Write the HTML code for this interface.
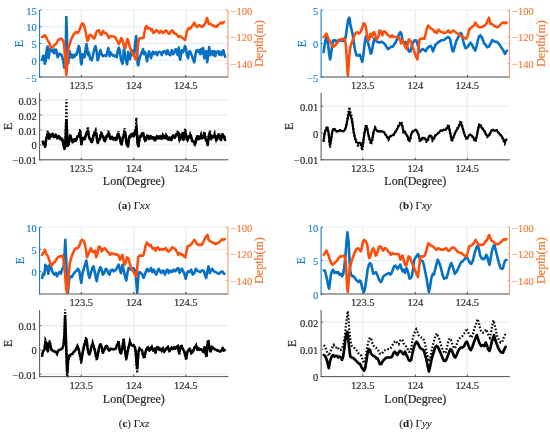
<!DOCTYPE html>
<html><head><meta charset="utf-8"><style>
html,body{margin:0;padding:0;background:#fff;}
svg{display:block;}
.t{font-family:"Liberation Serif","Times New Roman",serif;font-size:10.5px;stroke-width:0.15px;}
.l{font-family:"Liberation Serif","Times New Roman",serif;font-size:12px;stroke-width:0.2px;}
.c{font-family:"Liberation Serif","Times New Roman",serif;font-size:11px;stroke-width:0.1px;}
</style></head><body>
<svg width="550" height="435" viewBox="0 0 550 435">
<rect width="550" height="435" fill="#fff"/>
<line x1="81.3" y1="10.0" x2="81.3" y2="77.0" stroke="#e2e2e2" stroke-width="0.8"/>
<line x1="133.8" y1="10.0" x2="133.8" y2="77.0" stroke="#e2e2e2" stroke-width="0.8"/>
<line x1="185.8" y1="10.0" x2="185.8" y2="77.0" stroke="#e2e2e2" stroke-width="0.8"/>
<line x1="39.6" y1="10.0" x2="227.9" y2="10.0" stroke="#d9e8f4" stroke-width="0.8"/>
<line x1="39.6" y1="26.8" x2="227.9" y2="26.8" stroke="#d9e8f4" stroke-width="0.8"/>
<line x1="39.6" y1="43.5" x2="227.9" y2="43.5" stroke="#d9e8f4" stroke-width="0.8"/>
<line x1="39.6" y1="60.2" x2="227.9" y2="60.2" stroke="#d9e8f4" stroke-width="0.8"/>
<line x1="39.6" y1="77.0" x2="227.9" y2="77.0" stroke="#d9e8f4" stroke-width="0.8"/>
<clipPath id="c39_10"><rect x="39.6" y="8.0" width="188.3" height="70.0"/></clipPath>
<g clip-path="url(#c39_10)">
<polyline points="42.2,59.7 43.0,56.2 43.6,55.7 43.9,59.2 44.9,63.8 45.6,61.3 46.1,55.2 46.9,49.1 47.6,46.6 48.1,51.2 48.6,58.2 49.1,54.2 49.9,50.2 50.6,48.6 51.1,50.2 52.0,51.2 52.6,49.6 53.2,52.2 54.0,53.2 54.7,49.6 55.2,52.2 55.7,50.7 56.2,49.6 56.9,54.2 57.7,57.2 58.5,55.2 59.2,53.7 60.0,53.7 60.7,55.2 61.4,54.7 62.2,56.7 63.0,60.3 63.8,64.3 64.3,67.8 64.8,65.3 65.3,60.3 65.8,47.1 66.3,17.0 66.8,30.0 67.3,54.2 67.8,61.3 68.3,63.3 68.8,55.2 69.3,51.2 69.8,51.7 70.3,54.7 70.8,57.2 71.3,55.2 72.0,54.7 72.6,57.7 73.3,56.2 74.0,55.2 74.6,56.7 75.2,55.2 76.0,53.7 76.6,54.7 77.2,52.7 77.9,49.1 78.7,46.1 79.5,48.1 80.2,54.2 80.9,62.3 81.5,64.3 82.2,58.2 82.7,54.2 83.2,55.2 83.7,56.7 84.5,57.2 85.2,52.2 85.9,47.1 86.5,44.1 87.2,48.1 87.7,53.2 88.2,55.2 88.7,52.2 89.5,55.2 90.2,59.2 91.0,58.2 91.8,60.3 93.0,55.2 94.0,50.2 95.5,46.1 96.6,51.2 97.6,60.3 98.3,59.2 99.1,54.2 100.6,50.2 101.6,54.2 102.9,56.2 104.1,55.2 105.1,55.2 106.2,56.2 107.2,53.2 108.2,48.1 109.0,51.2 109.7,56.2 110.7,52.7 111.7,54.2 112.7,55.2 114.0,56.2 115.2,55.2 116.8,57.2 117.8,50.2 118.8,47.6 119.8,51.2 120.8,58.2 121.8,62.3 122.5,63.8 123.3,57.2 123.8,49.6 124.5,51.2 125.3,56.7 126.4,62.3 127.1,64.3 127.6,60.3 128.2,51.7 128.9,55.2 129.9,59.2 130.9,54.7 131.9,50.2 132.9,52.2 133.9,54.7 134.6,50.2 135.4,41.0 136.2,36.0 136.7,41.0 137.3,57.2 137.7,64.3 138.3,65.3 139.0,60.3 140.0,57.2 141.0,54.2 142.0,52.2 143.0,49.1 144.0,54.2 145.0,52.2 146.0,55.2 147.0,61.3 148.0,55.2 149.0,51.2 150.1,55.2 151.1,58.2 152.1,53.2 153.1,51.7 154.1,54.2 155.1,52.7 156.1,52.2 157.1,55.2 158.1,52.7 159.2,51.7 160.7,52.2 161.7,55.2 162.7,53.2 163.7,51.2 165.2,51.2 166.2,54.2 167.7,50.2 168.7,54.2 170.3,55.2 171.8,50.2 173.3,54.2 174.3,52.2 175.8,49.1 176.8,53.2 177.8,55.2 178.8,47.6 179.6,56.2 180.2,59.7 180.9,55.2 181.9,50.2 182.9,52.2 183.9,50.2 184.9,46.1 185.9,48.1 187.0,55.2 188.0,58.2 189.0,52.2 190.0,51.2 191.0,53.7 192.1,56.2 193.1,59.2 194.3,62.3 195.1,57.2 196.1,51.2 197.1,50.2 198.1,51.7 199.1,50.2 200.2,54.2 201.2,49.1 202.2,53.2 203.2,48.1 204.2,58.2 205.2,52.2 206.2,51.2 207.2,62.3 208.2,55.2 209.2,47.1 210.3,55.2 211.3,53.2 212.3,51.2 213.3,55.2 214.3,51.2 215.3,56.2 216.3,51.7 217.3,52.7 218.3,51.2 219.3,54.7 220.4,52.2 221.4,55.2 222.4,51.2 223.4,50.2 224.4,54.7 225.2,56.7" fill="none" stroke="#0570C4" stroke-width="2.60" stroke-linejoin="round" stroke-linecap="round" />
<polyline points="42.0,37.0 43.6,36.5 44.6,35.0 46.1,37.0 47.3,39.5 48.1,41.0 49.1,42.6 49.9,44.6 50.6,46.6 51.3,48.1 52.1,47.6 53.2,46.6 54.2,45.1 55.2,44.6 56.2,43.6 57.2,42.1 58.2,40.0 59.2,39.5 60.2,39.0 61.2,38.5 62.0,39.0 62.7,40.0 63.5,41.6 64.0,44.1 64.5,50.2 65.1,57.2 65.8,68.3 66.3,74.9 67.0,68.3 67.5,59.2 68.1,51.2 68.8,47.1 69.5,45.1 70.3,42.1 71.3,39.0 72.3,37.0 73.4,35.0 74.0,34.0 76.0,32.0 78.0,33.0 79.4,30.0 80.6,27.0 82.0,23.5 83.4,24.0 84.5,27.0 85.5,31.0 86.6,37.0 87.5,41.0 88.5,39.0 89.5,35.0 91.0,35.0 92.5,37.0 94.0,38.5 95.0,37.0 96.0,33.0 97.0,31.0 98.6,30.0 100.0,33.0 101.4,35.0 103.0,31.0 104.6,33.0 106.0,33.0 107.4,35.0 108.7,38.0 110.2,36.0 112.0,36.5 114.0,36.5 115.7,38.0 117.3,41.0 118.8,44.1 120.3,41.0 121.3,38.0 122.3,40.0 123.3,43.0 124.3,47.1 125.3,48.0 126.3,43.0 127.4,39.0 128.6,42.0 129.9,47.1 131.4,51.2 132.9,54.2 134.4,57.2 136.0,59.7 137.0,55.0 137.7,48.0 138.5,41.0 139.5,38.5 141.5,38.0 143.5,38.0 144.4,33.0 145.6,27.0 146.6,26.0 148.0,28.6 149.4,28.0 151.0,30.0 152.0,29.0 153.4,33.0 155.0,32.0 156.4,30.0 158.0,31.0 159.4,33.0 161.0,31.0 163.0,33.0 165.0,31.0 166.4,30.6 168.0,33.0 169.4,34.0 171.0,31.0 172.6,30.6 174.0,33.0 176.0,34.0 177.4,35.0 178.6,37.0 180.0,36.0 181.0,37.0 182.6,38.0 184.0,39.0 185.0,40.0 186.0,36.0 187.0,31.0 188.6,28.0 190.0,29.0 191.4,27.0 193.0,25.0 194.2,22.6 195.4,25.0 197.0,27.0 199.0,25.0 200.6,26.0 202.0,27.0 204.0,25.0 205.4,23.0 207.0,18.0 208.0,21.0 209.0,24.0 210.6,24.0 212.0,25.0 214.0,26.0 216.0,27.0 218.0,25.0 219.4,24.0 221.0,22.6 222.4,23.4 224.0,22.0" fill="none" stroke="#FC4F0C" stroke-width="2.60" stroke-linejoin="round" stroke-linecap="round" />
</g>
<line x1="39.1" y1="77.0" x2="228.4" y2="77.0" stroke="#555555" stroke-width="1"/>
<line x1="81.3" y1="77.0" x2="81.3" y2="75.0" stroke="#262626" stroke-width="0.8"/>
<text x="81.3" y="88.6" text-anchor="middle" class="t" fill="#262626" stroke="#262626">123.5</text>
<line x1="133.8" y1="77.0" x2="133.8" y2="75.0" stroke="#262626" stroke-width="0.8"/>
<text x="133.8" y="88.6" text-anchor="middle" class="t" fill="#262626" stroke="#262626">124</text>
<line x1="185.8" y1="77.0" x2="185.8" y2="75.0" stroke="#262626" stroke-width="0.8"/>
<text x="185.8" y="88.6" text-anchor="middle" class="t" fill="#262626" stroke="#262626">124.5</text>
<line x1="39.6" y1="10.0" x2="39.6" y2="77.5" stroke="#0570C4" stroke-width="1"/>
<line x1="39.6" y1="10.0" x2="41.6" y2="10.0" stroke="#0570C4" stroke-width="0.8"/>
<text x="36.8" y="14.5" text-anchor="end" class="t" fill="#1A7ECB" stroke="#1A7ECB">15</text>
<line x1="39.6" y1="26.8" x2="41.6" y2="26.8" stroke="#0570C4" stroke-width="0.8"/>
<text x="36.8" y="31.2" text-anchor="end" class="t" fill="#1A7ECB" stroke="#1A7ECB">10</text>
<line x1="39.6" y1="43.5" x2="41.6" y2="43.5" stroke="#0570C4" stroke-width="0.8"/>
<text x="36.8" y="48.0" text-anchor="end" class="t" fill="#1A7ECB" stroke="#1A7ECB">5</text>
<line x1="39.6" y1="60.2" x2="41.6" y2="60.2" stroke="#0570C4" stroke-width="0.8"/>
<text x="36.8" y="64.8" text-anchor="end" class="t" fill="#1A7ECB" stroke="#1A7ECB">0</text>
<line x1="39.6" y1="77.0" x2="41.6" y2="77.0" stroke="#0570C4" stroke-width="0.8"/>
<text x="36.8" y="81.5" text-anchor="end" class="t" fill="#1A7ECB" stroke="#1A7ECB">−5</text>
<line x1="227.9" y1="10.0" x2="227.9" y2="77.5" stroke="#F78F62" stroke-width="1"/>
<line x1="225.9" y1="10.0" x2="227.9" y2="10.0" stroke="#F78F62" stroke-width="0.8"/>
<text x="230.5" y="14.5" text-anchor="start" class="t" fill="#F37A38" stroke="#F37A38">−100</text>
<line x1="225.9" y1="36.8" x2="227.9" y2="36.8" stroke="#F78F62" stroke-width="0.8"/>
<text x="230.5" y="41.3" text-anchor="start" class="t" fill="#F37A38" stroke="#F37A38">−120</text>
<line x1="225.9" y1="63.6" x2="227.9" y2="63.6" stroke="#F78F62" stroke-width="0.8"/>
<text x="230.5" y="68.1" text-anchor="start" class="t" fill="#F37A38" stroke="#F37A38">−140</text>
<text transform="translate(18.7,43.5) rotate(-90)" text-anchor="middle" dominant-baseline="central" class="l" fill="#1A7ECB" stroke="#1A7ECB">E</text>
<text transform="translate(259.2,43.5) rotate(-90)" text-anchor="middle" dominant-baseline="central" class="l" fill="#F37A38" stroke="#F37A38">Depth(m)</text>
<line x1="81.3" y1="92.8" x2="81.3" y2="159.8" stroke="#e2e2e2" stroke-width="0.8"/>
<line x1="133.8" y1="92.8" x2="133.8" y2="159.8" stroke="#e2e2e2" stroke-width="0.8"/>
<line x1="185.8" y1="92.8" x2="185.8" y2="159.8" stroke="#e2e2e2" stroke-width="0.8"/>
<line x1="39.6" y1="100.2" x2="227.9" y2="100.2" stroke="#e2e2e2" stroke-width="0.8"/>
<line x1="39.6" y1="115.1" x2="227.9" y2="115.1" stroke="#e2e2e2" stroke-width="0.8"/>
<line x1="39.6" y1="130.0" x2="227.9" y2="130.0" stroke="#e2e2e2" stroke-width="0.8"/>
<line x1="39.6" y1="144.9" x2="227.9" y2="144.9" stroke="#e2e2e2" stroke-width="0.8"/>
<line x1="39.6" y1="159.8" x2="227.9" y2="159.8" stroke="#e2e2e2" stroke-width="0.8"/>
<polyline points="42.8,141.7 43.6,144.5 44.4,144.5 45.2,146.7 46.0,140.2 46.8,136.8 47.7,133.8 48.5,136.6 49.3,138.7 50.1,135.7 50.9,136.8 51.7,135.1 52.5,133.9 53.3,135.5 54.1,137.2 54.9,136.1 55.7,134.7 56.5,136.2 57.3,138.4 58.1,137.8 58.9,136.1 59.7,137.3 60.5,139.4 61.3,138.7 62.1,138.7 62.9,141.5 63.7,145.9 64.5,149.0 65.3,146.0 65.9,131.0 66.4,121.0 66.9,131.0 67.5,146.0 68.0,143.9 68.6,144.6 69.4,139.2 70.2,136.1 71.0,137.9 71.8,140.1 72.6,142.2 73.4,141.5 74.2,139.4 75.0,140.1 75.8,140.8 76.6,138.7 77.4,136.3 78.2,136.6 78.8,136.6 79.5,133.7 80.2,132.3 80.6,137.1 81.4,144.3 82.2,140.0 83.0,137.8 83.8,138.5 84.6,139.2 85.4,137.0 86.2,133.7 87.1,133.1 87.9,130.7 88.7,135.2 89.5,138.5 90.3,138.5 91.1,141.4 91.9,142.1 92.7,139.9 93.5,135.5 94.3,133.8 94.9,134.6 95.6,132.5 96.2,133.0 96.7,136.3 97.2,141.0 97.8,142.9 98.4,140.1 99.1,140.1 99.9,139.0 100.7,135.1 101.5,133.5 102.3,135.9 103.2,136.6 104.0,140.0 104.8,141.1 105.6,139.3 106.4,136.3 107.2,136.1 107.8,136.1 108.5,133.3 109.0,133.5 109.6,136.4 110.4,138.9 111.2,138.6 112.0,136.8 112.8,137.8 113.6,139.6 114.4,138.6 115.2,137.9 116.0,140.0 116.8,139.0 117.6,135.2 118.4,133.8 119.2,136.5 120.0,138.7 120.8,143.0 121.6,144.5 122.4,139.2 123.2,136.7 123.8,135.9 124.5,132.2 125.0,132.4 125.6,135.5 126.2,141.3 126.8,144.4 127.4,144.1 128.0,146.5 128.8,139.9 129.4,136.4 130.0,135.7 130.7,136.8 131.3,135.2 132.1,133.9 132.9,135.4 133.7,136.3 134.5,134.4 135.2,131.4 135.8,131.2 136.4,127.1 136.9,133.6 137.7,144.2 138.5,146.4 139.3,139.9 139.9,136.4 140.6,135.8 141.1,136.7 141.7,134.9 142.5,133.1 143.3,134.1 144.1,137.2 145.0,140.2 145.8,140.3 146.5,137.6 147.3,135.5 148.2,136.3 149.0,138.9 149.8,138.6 150.6,136.2 151.4,136.6 152.2,138.5 153.0,137.6 153.8,137.4 154.6,140.1 155.4,140.1 156.2,137.4 157.0,136.2 157.8,137.9 158.6,138.5 159.4,136.4 160.2,136.1 161.0,138.6 161.8,138.7 162.6,136.0 163.4,135.4 164.2,137.5 165.0,138.2 165.8,136.0 166.7,135.9 167.5,138.6 168.3,139.6 169.1,137.8 169.9,137.5 170.7,140.0 171.5,139.9 172.3,137.1 173.1,135.3 173.9,136.2 174.7,137.9 175.5,136.7 176.3,134.0 177.1,134.1 177.6,134.9 178.2,132.8 178.8,134.9 179.5,139.8 180.3,139.2 181.1,135.7 181.8,133.8 182.4,134.7 182.9,138.7 183.5,139.9 184.3,133.8 185.3,131.8 186.3,136.2 186.9,139.5 187.6,140.0 188.2,136.8 188.9,136.4 189.4,137.3 190.0,135.4 190.8,135.6 191.6,138.6 192.4,141.5 193.2,141.5 194.0,141.6 194.8,144.5 195.6,143.0 196.4,138.8 197.2,136.3 198.0,136.6 198.8,139.1 199.6,138.9 200.4,136.1 201.2,136.2 202.0,138.3 202.8,137.7 203.7,134.5 204.5,134.0 205.3,138.5 206.1,140.1 206.9,141.2 207.7,145.1 208.5,138.0 209.2,134.3 209.8,133.5 210.6,137.5 211.4,138.6 212.2,136.2 213.0,136.6 213.8,137.2 214.6,134.9 215.4,136.0 216.2,140.0 217.0,139.4 217.8,136.0 218.6,134.3 219.4,135.3 220.2,139.1 221.0,140.0 221.8,136.0 222.6,134.8 223.2,137.0 223.8,136.4 224.4,136.8 225.0,140.0" fill="none" stroke="#000" stroke-width="2.60" stroke-linejoin="round" stroke-linecap="round" />
<polyline points="42.8,141.7 44.4,144.5 45.2,146.7 46.0,140.2 46.8,136.8 47.7,130.6 48.5,136.6 49.3,138.7 50.1,133.8 51.7,133.0 53.3,134.6 54.9,136.1 56.5,136.2 58.1,137.8 59.7,137.3 61.3,138.7 62.9,141.5 63.7,145.9 64.5,149.0 65.3,146.0 65.9,124.2 66.4,99.5 66.9,124.2 67.5,146.0 68.6,144.6 69.4,139.2 70.2,133.8 71.0,137.9 71.8,140.1 73.4,141.5 75.0,140.1 76.6,138.7 78.2,136.6 79.5,130.6 80.2,129.0 80.6,137.1 81.4,144.3 82.2,140.0 83.8,138.5 85.4,137.0 87.1,130.6 87.9,126.6 88.7,133.8 89.5,138.5 91.1,141.4 92.7,139.9 94.3,132.2 95.6,129.8 96.7,136.3 97.8,142.9 99.1,140.1 100.7,133.8 101.5,131.4 102.3,135.9 104.0,140.0 105.6,139.3 107.2,136.1 108.5,130.6 109.6,136.4 111.2,138.6 112.8,137.8 114.4,138.6 116.0,140.0 117.6,133.8 118.4,131.4 119.2,136.5 120.0,138.7 121.6,144.5 123.2,136.7 124.5,128.2 125.6,133.8 126.8,144.4 128.0,146.5 128.8,139.9 130.0,135.7 131.3,133.8 132.9,133.8 134.5,132.2 135.8,127.4 136.4,117.7 136.9,132.2 137.7,144.2 138.5,146.4 139.3,139.9 140.6,135.8 141.7,133.8 143.3,132.2 144.1,137.2 145.0,140.2 146.5,137.6 148.2,136.3 149.8,138.6 151.4,136.6 153.0,137.6 154.6,140.1 156.2,137.4 157.8,137.9 159.4,136.4 161.0,138.6 162.6,134.6 164.2,137.5 165.8,134.6 167.5,138.6 169.1,137.8 170.7,140.0 172.3,137.1 173.9,136.2 175.5,136.7 177.1,132.2 178.2,130.6 179.5,139.8 181.1,135.7 182.4,133.8 183.5,139.9 184.3,132.2 185.3,128.4 186.3,136.2 187.6,140.0 188.9,136.4 190.0,133.8 191.6,138.6 193.2,141.5 194.8,144.5 196.4,138.8 198.0,136.6 199.6,138.9 201.2,133.8 202.8,137.7 204.5,131.4 206.1,140.1 207.7,145.1 208.5,138.0 209.8,130.6 211.4,138.6 213.0,136.6 214.6,133.0 216.2,140.0 217.8,136.0 219.4,133.8 221.0,140.0 222.6,133.0 223.8,136.4 225.0,140.0" fill="none" stroke="#000" stroke-width="2.20" stroke-linecap="butt" stroke-dasharray="1.6 1.8" />
<line x1="39.1" y1="159.8" x2="228.4" y2="159.8" stroke="#555555" stroke-width="1"/>
<line x1="81.3" y1="159.8" x2="81.3" y2="157.8" stroke="#262626" stroke-width="0.8"/>
<text x="81.3" y="172.4" text-anchor="middle" class="t" fill="#262626" stroke="#262626">123.5</text>
<line x1="133.8" y1="159.8" x2="133.8" y2="157.8" stroke="#262626" stroke-width="0.8"/>
<text x="133.8" y="172.4" text-anchor="middle" class="t" fill="#262626" stroke="#262626">124</text>
<line x1="185.8" y1="159.8" x2="185.8" y2="157.8" stroke="#262626" stroke-width="0.8"/>
<text x="185.8" y="172.4" text-anchor="middle" class="t" fill="#262626" stroke="#262626">124.5</text>
<line x1="39.6" y1="92.8" x2="39.6" y2="160.3" stroke="#555555" stroke-width="1"/>
<line x1="39.6" y1="100.2" x2="41.6" y2="100.2" stroke="#555555" stroke-width="0.8"/>
<text x="36.8" y="104.7" text-anchor="end" class="t" fill="#262626" stroke="#262626">0.03</text>
<line x1="39.6" y1="115.1" x2="41.6" y2="115.1" stroke="#555555" stroke-width="0.8"/>
<text x="36.8" y="119.6" text-anchor="end" class="t" fill="#262626" stroke="#262626">0.02</text>
<line x1="39.6" y1="130.0" x2="41.6" y2="130.0" stroke="#555555" stroke-width="0.8"/>
<text x="36.8" y="134.5" text-anchor="end" class="t" fill="#262626" stroke="#262626">0.01</text>
<line x1="39.6" y1="144.9" x2="41.6" y2="144.9" stroke="#555555" stroke-width="0.8"/>
<text x="36.8" y="149.4" text-anchor="end" class="t" fill="#262626" stroke="#262626">0</text>
<line x1="39.6" y1="159.8" x2="41.6" y2="159.8" stroke="#555555" stroke-width="0.8"/>
<text x="36.8" y="164.3" text-anchor="end" class="t" fill="#262626" stroke="#262626">−0.01</text>
<text transform="translate(7.5,126.3) rotate(-90)" text-anchor="middle" dominant-baseline="central" class="l" fill="#262626" stroke="#262626">E</text>
<text x="133.8" y="185.2" text-anchor="middle" class="l" fill="#262626" stroke="#262626">Lon(Degree)</text>
<text x="134.0" y="209.0" text-anchor="middle" class="c" fill="#222" stroke="#222">(<tspan font-weight="bold">a</tspan>) Γ<tspan font-style="italic">xx</tspan></text>
<line x1="362.8" y1="10.0" x2="362.8" y2="77.0" stroke="#e2e2e2" stroke-width="0.8"/>
<line x1="415.3" y1="10.0" x2="415.3" y2="77.0" stroke="#e2e2e2" stroke-width="0.8"/>
<line x1="467.3" y1="10.0" x2="467.3" y2="77.0" stroke="#e2e2e2" stroke-width="0.8"/>
<line x1="321.1" y1="10.0" x2="509.4" y2="10.0" stroke="#d9e8f4" stroke-width="0.8"/>
<line x1="321.1" y1="43.5" x2="509.4" y2="43.5" stroke="#d9e8f4" stroke-width="0.8"/>
<line x1="321.1" y1="77.0" x2="509.4" y2="77.0" stroke="#d9e8f4" stroke-width="0.8"/>
<clipPath id="c321_10"><rect x="321.1" y="8.0" width="188.3" height="70.0"/></clipPath>
<g clip-path="url(#c321_10)">
<polyline points="323.6,52.2 324.4,46.6 325.7,39.4 326.8,37.0 328.0,43.4 329.0,53.0 330.1,59.5 331.2,53.0 332.2,45.0 333.3,40.2 334.9,40.2 336.5,41.8 338.1,40.2 339.7,41.0 341.3,40.2 342.9,41.0 344.5,40.2 345.7,37.0 347.0,27.3 348.2,19.3 349.4,17.7 350.5,25.7 351.8,30.5 353.1,37.0 354.2,45.0 355.3,51.4 356.6,55.5 358.2,55.5 359.8,54.7 361.1,57.9 362.2,61.9 363.4,54.7 364.7,43.4 366.0,36.2 367.1,38.6 368.2,43.4 369.5,48.2 370.8,53.8 371.9,51.4 373.0,45.0 374.3,38.6 375.6,40.2 377.2,41.8 379.1,42.6 381.5,41.8 383.2,42.6 384.8,44.2 386.4,46.6 388.0,49.0 389.6,48.2 391.2,46.6 392.8,46.6 394.4,44.2 396.0,41.8 397.6,37.8 399.2,33.7 400.4,32.1 401.5,34.0 402.4,40.2 404.0,43.4 405.6,41.8 407.2,46.6 408.8,51.4 410.5,51.4 411.6,46.6 412.9,42.6 414.5,40.2 416.1,40.2 417.4,43.4 418.5,48.2 419.6,52.2 420.9,50.6 422.5,49.0 424.1,49.8 425.7,51.4 427.3,48.2 429.0,46.6 430.6,45.8 431.9,48.2 433.0,51.4 434.1,48.2 435.4,45.0 437.0,43.4 438.6,41.8 440.2,41.0 441.8,40.2 443.4,40.2 445.0,39.4 446.7,37.8 448.3,37.0 449.9,38.6 451.2,45.0 452.3,50.6 453.4,51.4 454.7,46.6 456.3,41.0 457.9,37.8 459.5,34.5 460.8,32.9 461.9,34.5 463.1,40.2 464.3,45.0 465.6,48.2 467.2,47.4 468.9,45.0 470.5,42.6 472.1,45.0 473.7,48.2 475.3,50.6 476.9,45.0 478.0,39.4 479.2,36.2 480.4,35.3 482.0,37.8 484.1,43.4 485.7,45.0 487.3,47.4 489.0,46.6 490.6,43.4 492.2,40.2 493.8,41.0 495.4,41.8 497.0,41.8 498.6,43.4 500.2,45.8 501.8,48.2 503.4,50.6 505.0,53.8 506.3,51.4 507.0,50.6" fill="none" stroke="#0570C4" stroke-width="2.60" stroke-linejoin="round" stroke-linecap="round" />
<polyline points="323.6,37.0 324.8,36.2 326.4,33.7 327.7,37.0 328.9,40.2 330.1,41.0 331.2,43.4 332.5,46.6 333.8,46.6 335.4,45.0 337.0,43.4 338.6,41.0 340.2,39.4 341.8,39.4 343.4,38.6 344.5,39.4 345.7,43.4 346.6,54.7 347.3,69.1 347.9,75.6 348.9,61.1 349.9,49.8 351.0,45.0 352.6,40.2 354.2,36.2 355.8,32.9 357.4,32.1 359.0,33.7 360.6,32.1 362.2,28.1 363.4,23.3 365.0,24.1 365.9,27.3 367.1,36.2 368.2,40.2 369.2,39.4 370.3,33.7 371.9,37.0 373.0,32.9 374.3,32.1 375.6,37.0 376.7,39.4 378.3,37.0 379.5,30.5 381.1,31.3 382.3,35.3 384.0,31.3 385.6,32.1 387.2,34.5 388.8,35.3 390.4,37.0 392.0,35.3 393.6,37.0 395.2,37.0 396.8,37.0 398.4,37.0 400.0,40.2 401.3,43.4 402.5,40.2 404.0,43.4 405.1,46.6 406.4,49.0 407.7,43.4 408.8,39.4 410.0,40.2 411.3,42.6 412.5,46.6 414.2,51.4 415.8,56.3 417.4,59.5 418.5,48.2 419.6,39.4 421.2,38.6 422.8,38.6 424.5,38.6 425.7,33.7 427.0,28.1 428.2,25.7 429.8,27.3 431.4,28.9 433.0,29.7 434.6,32.1 435.7,31.3 437.0,32.9 438.6,29.7 440.2,31.3 441.8,32.1 443.4,32.9 445.0,32.9 446.7,32.1 448.3,30.5 449.9,32.9 451.5,32.1 453.1,30.5 454.7,31.3 456.3,32.9 457.9,33.7 459.5,35.3 461.1,36.2 462.7,37.0 464.3,37.8 466.0,38.6 467.2,37.0 468.4,32.9 469.5,28.9 470.8,28.1 472.4,26.5 474.0,25.7 475.3,22.5 476.4,24.1 478.0,26.5 479.6,27.3 481.2,27.3 482.8,26.5 484.5,25.7 486.1,24.1 487.7,20.9 489.0,17.7 489.8,20.9 490.6,24.1 492.2,24.1 493.8,25.7 495.4,26.5 497.0,27.3 498.6,26.5 500.2,24.9 501.8,23.3 503.4,22.5 505.0,23.3 506.7,22.5" fill="none" stroke="#FC4F0C" stroke-width="2.60" stroke-linejoin="round" stroke-linecap="round" />
</g>
<line x1="320.6" y1="77.0" x2="509.9" y2="77.0" stroke="#555555" stroke-width="1"/>
<line x1="362.8" y1="77.0" x2="362.8" y2="75.0" stroke="#262626" stroke-width="0.8"/>
<text x="362.8" y="88.6" text-anchor="middle" class="t" fill="#262626" stroke="#262626">123.5</text>
<line x1="415.3" y1="77.0" x2="415.3" y2="75.0" stroke="#262626" stroke-width="0.8"/>
<text x="415.3" y="88.6" text-anchor="middle" class="t" fill="#262626" stroke="#262626">124</text>
<line x1="467.3" y1="77.0" x2="467.3" y2="75.0" stroke="#262626" stroke-width="0.8"/>
<text x="467.3" y="88.6" text-anchor="middle" class="t" fill="#262626" stroke="#262626">124.5</text>
<line x1="321.1" y1="10.0" x2="321.1" y2="77.5" stroke="#0570C4" stroke-width="1"/>
<line x1="321.1" y1="10.0" x2="323.1" y2="10.0" stroke="#0570C4" stroke-width="0.8"/>
<text x="318.3" y="14.5" text-anchor="end" class="t" fill="#1A7ECB" stroke="#1A7ECB">5</text>
<line x1="321.1" y1="43.5" x2="323.1" y2="43.5" stroke="#0570C4" stroke-width="0.8"/>
<text x="318.3" y="48.0" text-anchor="end" class="t" fill="#1A7ECB" stroke="#1A7ECB">0</text>
<line x1="321.1" y1="77.0" x2="323.1" y2="77.0" stroke="#0570C4" stroke-width="0.8"/>
<text x="318.3" y="81.5" text-anchor="end" class="t" fill="#1A7ECB" stroke="#1A7ECB">−5</text>
<line x1="509.4" y1="10.0" x2="509.4" y2="77.5" stroke="#F78F62" stroke-width="1"/>
<line x1="507.4" y1="10.0" x2="509.4" y2="10.0" stroke="#F78F62" stroke-width="0.8"/>
<text x="512.0" y="14.5" text-anchor="start" class="t" fill="#F37A38" stroke="#F37A38">−100</text>
<line x1="507.4" y1="36.8" x2="509.4" y2="36.8" stroke="#F78F62" stroke-width="0.8"/>
<text x="512.0" y="41.3" text-anchor="start" class="t" fill="#F37A38" stroke="#F37A38">−120</text>
<line x1="507.4" y1="63.6" x2="509.4" y2="63.6" stroke="#F78F62" stroke-width="0.8"/>
<text x="512.0" y="68.1" text-anchor="start" class="t" fill="#F37A38" stroke="#F37A38">−140</text>
<text transform="translate(302.0,43.5) rotate(-90)" text-anchor="middle" dominant-baseline="central" class="l" fill="#1A7ECB" stroke="#1A7ECB">E</text>
<text transform="translate(540.7,43.5) rotate(-90)" text-anchor="middle" dominant-baseline="central" class="l" fill="#F37A38" stroke="#F37A38">Depth(m)</text>
<line x1="362.8" y1="92.8" x2="362.8" y2="159.8" stroke="#e2e2e2" stroke-width="0.8"/>
<line x1="415.3" y1="92.8" x2="415.3" y2="159.8" stroke="#e2e2e2" stroke-width="0.8"/>
<line x1="467.3" y1="92.8" x2="467.3" y2="159.8" stroke="#e2e2e2" stroke-width="0.8"/>
<line x1="321.1" y1="106.2" x2="509.4" y2="106.2" stroke="#e2e2e2" stroke-width="0.8"/>
<line x1="321.1" y1="133.0" x2="509.4" y2="133.0" stroke="#e2e2e2" stroke-width="0.8"/>
<line x1="321.1" y1="159.8" x2="509.4" y2="159.8" stroke="#e2e2e2" stroke-width="0.8"/>
<polyline points="323.6,140.3 324.4,134.6 325.7,129.8 327.3,127.4 328.5,132.2 329.3,140.3 330.1,145.1 330.9,140.3 332.2,132.2 333.3,129.0 334.9,129.8 336.5,131.4 338.1,131.4 339.7,130.6 341.3,130.6 342.9,131.4 344.5,130.6 345.7,128.2 347.0,122.6 348.2,116.1 349.4,111.3 350.2,114.5 351.5,118.5 352.6,124.2 353.7,132.2 355.0,137.8 356.6,141.9 358.2,143.5 359.8,142.7 361.1,143.5 362.2,147.5 363.0,143.5 364.3,133.8 366.0,125.8 367.1,128.2 368.2,133.8 369.5,138.7 371.1,142.7 372.4,138.7 373.5,132.2 375.1,128.2 376.2,129.8 377.5,131.4 379.1,131.4 380.7,131.4 382.3,131.4 384.0,132.2 385.6,134.6 387.2,137.0 388.5,138.7 390.1,136.2 392.0,135.4 393.6,134.6 395.2,132.2 396.8,129.8 398.4,126.6 400.0,124.2 401.3,123.4 402.4,126.6 403.5,132.2 404.8,131.4 406.1,134.6 407.2,135.4 408.8,140.3 410.0,139.5 411.3,133.8 412.9,131.4 414.5,130.6 416.1,129.8 417.4,132.2 418.5,134.6 419.6,139.5 420.9,140.3 422.2,137.8 423.8,137.8 425.4,138.7 426.5,140.3 427.7,140.3 429.0,136.2 430.2,135.4 431.4,136.2 432.5,139.5 433.8,138.7 435.1,135.4 436.7,134.6 438.3,133.0 439.9,131.4 441.5,130.3 442.6,130.6 444.2,129.8 445.8,129.8 447.5,127.4 448.6,125.8 449.5,129.8 450.7,135.4 451.8,140.3 453.1,137.8 454.7,133.8 456.3,130.6 457.9,128.2 459.5,125.0 460.8,122.6 461.9,125.8 463.1,129.8 464.3,133.8 465.6,137.0 466.8,138.7 468.4,136.2 470.0,134.6 471.6,135.4 473.2,137.0 474.3,139.5 475.6,140.3 476.9,135.4 478.0,129.8 479.2,125.0 480.4,125.8 482.0,128.2 484.1,130.6 485.7,133.8 487.3,136.2 489.0,135.4 490.6,132.2 492.2,129.8 493.8,130.6 495.4,130.6 497.0,130.6 498.6,133.0 500.2,134.6 501.8,136.2 503.4,139.5 504.7,141.9 505.8,139.5 506.7,139.5" fill="none" stroke="#000" stroke-width="2.15" stroke-linejoin="round" stroke-linecap="round" />
<polyline points="323.6,141.8 324.4,135.0 325.7,129.2 327.3,126.3 328.5,132.1 329.3,141.8 330.1,147.6 330.9,141.8 332.2,132.1 333.3,128.3 334.9,129.2 336.5,131.1 338.1,131.1 339.7,130.2 341.3,130.2 342.9,131.1 344.5,130.2 345.7,127.3 347.0,120.6 348.2,112.8 349.4,107.0 350.2,110.9 351.5,115.7 352.6,122.5 353.7,132.1 355.0,138.8 356.6,143.7 358.2,145.7 359.8,144.7 361.1,145.7 362.2,150.5 363.0,145.7 364.3,134.0 366.0,124.4 367.1,127.3 368.2,134.0 369.5,139.9 371.1,144.7 372.4,139.9 373.5,132.1 375.1,127.3 376.2,129.2 377.5,131.1 379.1,131.1 380.7,131.1 382.3,131.1 384.0,132.1 385.6,135.0 387.2,137.9 388.5,139.9 390.1,136.9 392.0,135.9 393.6,135.0 395.2,132.1 396.8,129.2 398.4,125.4 400.0,122.5 401.3,121.5 402.4,125.4 403.5,132.1 404.8,131.1 406.1,135.0 407.2,135.9 408.8,141.8 410.0,140.9 411.3,134.0 412.9,131.1 414.5,130.2 416.1,129.2 417.4,132.1 418.5,135.0 419.6,140.9 420.9,141.8 422.2,138.8 423.8,138.8 425.4,139.9 426.5,141.8 427.7,141.8 429.0,136.9 430.2,135.9 431.4,136.9 432.5,140.9 433.8,139.9 435.1,135.9 436.7,135.0 438.3,133.1 439.9,131.1 441.5,129.8 442.6,130.2 444.2,129.2 445.8,129.2 447.5,126.3 448.6,124.4 449.5,129.2 450.7,135.9 451.8,141.8 453.1,138.8 454.7,134.0 456.3,130.2 457.9,127.3 459.5,123.5 460.8,120.6 461.9,124.4 463.1,129.2 464.3,134.0 465.6,137.9 466.8,139.9 468.4,136.9 470.0,135.0 471.6,135.9 473.2,137.9 474.3,140.9 475.6,141.8 476.9,135.9 478.0,129.2 479.2,123.5 480.4,124.4 482.0,127.3 484.1,130.2 485.7,134.0 487.3,136.9 489.0,135.9 490.6,132.1 492.2,129.2 493.8,130.2 495.4,130.2 497.0,130.2 498.6,133.1 500.2,135.0 501.8,136.9 503.4,140.9 504.7,143.7 505.8,140.9 506.7,140.9" fill="none" stroke="#000" stroke-width="2.20" stroke-linecap="butt" stroke-dasharray="1.6 1.8" />
<line x1="320.6" y1="159.8" x2="509.9" y2="159.8" stroke="#555555" stroke-width="1"/>
<line x1="362.8" y1="159.8" x2="362.8" y2="157.8" stroke="#262626" stroke-width="0.8"/>
<text x="362.8" y="172.4" text-anchor="middle" class="t" fill="#262626" stroke="#262626">123.5</text>
<line x1="415.3" y1="159.8" x2="415.3" y2="157.8" stroke="#262626" stroke-width="0.8"/>
<text x="415.3" y="172.4" text-anchor="middle" class="t" fill="#262626" stroke="#262626">124</text>
<line x1="467.3" y1="159.8" x2="467.3" y2="157.8" stroke="#262626" stroke-width="0.8"/>
<text x="467.3" y="172.4" text-anchor="middle" class="t" fill="#262626" stroke="#262626">124.5</text>
<line x1="321.1" y1="92.8" x2="321.1" y2="160.3" stroke="#555555" stroke-width="1"/>
<line x1="321.1" y1="106.2" x2="323.1" y2="106.2" stroke="#555555" stroke-width="0.8"/>
<text x="318.3" y="110.7" text-anchor="end" class="t" fill="#262626" stroke="#262626">0.01</text>
<line x1="321.1" y1="133.0" x2="323.1" y2="133.0" stroke="#555555" stroke-width="0.8"/>
<text x="318.3" y="137.5" text-anchor="end" class="t" fill="#262626" stroke="#262626">0</text>
<line x1="321.1" y1="159.8" x2="323.1" y2="159.8" stroke="#555555" stroke-width="0.8"/>
<text x="318.3" y="164.3" text-anchor="end" class="t" fill="#262626" stroke="#262626">−0.01</text>
<text transform="translate(289.0,126.3) rotate(-90)" text-anchor="middle" dominant-baseline="central" class="l" fill="#262626" stroke="#262626">E</text>
<text x="415.3" y="185.2" text-anchor="middle" class="l" fill="#262626" stroke="#262626">Lon(Degree)</text>
<text x="415.5" y="209.0" text-anchor="middle" class="c" fill="#222" stroke="#222">(<tspan font-weight="bold">b</tspan>) Γ<tspan font-style="italic">xy</tspan></text>
<line x1="81.3" y1="227.0" x2="81.3" y2="294.0" stroke="#e2e2e2" stroke-width="0.8"/>
<line x1="133.8" y1="227.0" x2="133.8" y2="294.0" stroke="#e2e2e2" stroke-width="0.8"/>
<line x1="185.8" y1="227.0" x2="185.8" y2="294.0" stroke="#e2e2e2" stroke-width="0.8"/>
<line x1="39.6" y1="227.0" x2="227.9" y2="227.0" stroke="#d9e8f4" stroke-width="0.8"/>
<line x1="39.6" y1="249.3" x2="227.9" y2="249.3" stroke="#d9e8f4" stroke-width="0.8"/>
<line x1="39.6" y1="271.7" x2="227.9" y2="271.7" stroke="#d9e8f4" stroke-width="0.8"/>
<clipPath id="c39_227"><rect x="39.6" y="225.0" width="188.3" height="70.0"/></clipPath>
<g clip-path="url(#c39_227)">
<polyline points="42.1,277.9 43.0,273.8 44.3,274.6 45.4,264.7 46.3,269.7 47.1,266.4 48.3,273.8 49.6,264.7 50.9,266.4 52.1,271.3 53.2,273.0 54.5,274.6 55.9,273.0 57.0,276.3 58.2,273.8 59.5,272.1 60.8,273.8 62.0,269.7 62.8,268.0 63.6,266.4 64.5,254.8 65.3,239.9 66.1,258.1 67.0,282.9 67.8,292.8 68.6,284.6 69.4,277.9 70.8,276.3 71.9,277.1 73.1,274.6 74.4,273.0 75.7,271.3 76.9,270.5 78.0,268.8 79.4,271.3 80.3,277.9 81.3,282.9 82.3,274.6 83.5,269.7 85.1,264.7 86.3,260.6 87.3,266.4 88.5,274.6 89.6,277.9 90.9,273.0 92.3,268.0 93.4,266.4 94.6,271.3 95.9,277.9 96.7,281.2 97.9,274.6 99.2,269.7 100.5,267.2 101.7,270.5 102.8,274.6 104.2,273.0 105.8,268.8 107.1,269.7 108.3,273.0 109.5,274.6 110.8,270.5 112.4,269.7 113.8,271.3 114.9,270.5 116.6,268.8 117.7,266.4 118.7,264.7 119.9,269.7 121.0,273.0 122.5,264.7 123.6,269.7 125.0,276.3 126.3,280.4 127.4,273.0 128.6,268.0 129.9,268.8 131.2,269.7 132.4,268.8 133.6,268.0 134.6,269.7 135.7,274.6 136.5,284.6 137.2,292.8 137.9,282.9 138.5,274.6 139.5,272.1 140.7,273.0 142.3,274.6 143.5,277.9 144.8,274.6 146.1,271.3 147.3,268.8 148.5,271.3 149.8,270.5 151.1,268.0 152.3,272.1 153.9,269.7 155.1,273.0 156.4,274.6 157.7,270.5 158.9,268.8 160.0,271.3 161.4,273.0 162.7,270.5 163.8,271.3 165.0,274.6 166.3,270.5 167.6,269.7 168.8,273.0 170.5,270.5 172.1,272.1 173.8,269.7 175.4,271.3 177.1,268.8 178.2,268.0 179.6,273.0 180.9,269.7 182.0,268.8 183.2,271.3 184.5,274.6 185.8,278.8 187.0,273.0 188.2,271.3 189.5,272.1 191.1,269.7 192.8,274.6 194.4,273.0 195.8,268.8 196.9,270.5 198.6,271.3 200.2,272.1 201.9,270.5 203.5,270.5 204.9,274.7 206.2,278.0 207.3,271.4 208.5,266.4 209.8,273.1 211.2,269.7 212.3,268.9 214.0,271.4 215.6,272.2 217.3,273.1 219.0,273.9 220.6,272.2 222.3,271.4 223.4,273.1 224.4,273.9" fill="none" stroke="#0570C4" stroke-width="2.60" stroke-linejoin="round" stroke-linecap="round" />
<polyline points="42.1,254.8 43.8,252.3 44.9,249.8 46.3,254.0 47.6,255.6 48.8,258.9 49.9,262.2 51.2,265.5 52.9,263.9 54.5,262.2 56.2,259.7 57.9,257.3 59.5,256.4 60.8,256.4 62.0,255.6 63.1,257.3 64.1,263.0 65.3,276.3 66.1,287.9 67.0,292.8 67.8,286.2 68.6,274.6 69.8,263.0 71.1,258.1 72.7,254.0 74.4,249.8 76.0,248.2 77.7,248.2 79.4,245.7 80.7,241.5 81.8,239.9 83.5,240.7 84.6,243.2 86.0,249.8 87.0,257.3 88.5,254.0 89.6,251.5 90.9,248.2 92.3,251.5 93.4,252.3 95.1,250.6 96.2,257.3 97.6,253.1 98.9,246.5 100.5,247.3 101.7,251.5 103.3,249.0 105.0,248.2 106.7,250.6 108.3,252.3 110.0,254.8 111.6,253.1 113.3,254.0 114.9,254.0 116.6,254.8 118.2,254.8 120.0,259.7 121.3,257.3 122.5,254.8 123.6,260.6 124.6,264.7 125.8,262.2 127.0,257.3 128.3,258.1 129.6,263.0 130.8,267.2 131.9,269.7 133.2,271.3 134.6,273.8 135.7,275.5 136.5,276.3 137.4,266.4 138.2,257.3 139.5,255.6 141.5,255.6 143.2,255.6 144.5,251.5 145.6,245.7 146.8,242.4 148.1,244.0 149.4,245.7 150.6,244.9 151.8,247.3 153.1,249.0 154.4,248.2 155.6,250.6 156.7,248.2 158.0,247.3 159.4,249.8 161.0,249.0 162.7,249.8 164.3,249.0 166.0,248.2 167.1,250.6 168.8,251.5 170.5,249.8 172.1,247.3 173.8,248.2 175.4,249.0 177.1,252.3 178.2,254.8 179.6,253.1 180.9,254.0 182.5,254.8 184.2,256.4 185.3,257.3 186.5,251.5 187.5,246.5 189.1,245.7 190.8,244.9 192.0,243.2 193.1,241.5 194.4,239.9 195.8,241.5 196.9,244.0 198.6,244.9 200.2,244.9 201.9,244.9 203.5,241.5 205.2,238.2 206.0,236.6 207.5,234.9 208.7,239.9 210.7,241.6 212.3,242.4 214.0,243.2 215.6,244.1 217.3,243.2 219.0,242.4 220.6,240.7 222.3,239.1 223.4,239.9 224.8,239.1" fill="none" stroke="#FC4F0C" stroke-width="2.60" stroke-linejoin="round" stroke-linecap="round" />
</g>
<line x1="39.1" y1="294.0" x2="228.4" y2="294.0" stroke="#555555" stroke-width="1"/>
<line x1="81.3" y1="294.0" x2="81.3" y2="292.0" stroke="#262626" stroke-width="0.8"/>
<text x="81.3" y="305.6" text-anchor="middle" class="t" fill="#262626" stroke="#262626">123.5</text>
<line x1="133.8" y1="294.0" x2="133.8" y2="292.0" stroke="#262626" stroke-width="0.8"/>
<text x="133.8" y="305.6" text-anchor="middle" class="t" fill="#262626" stroke="#262626">124</text>
<line x1="185.8" y1="294.0" x2="185.8" y2="292.0" stroke="#262626" stroke-width="0.8"/>
<text x="185.8" y="305.6" text-anchor="middle" class="t" fill="#262626" stroke="#262626">124.5</text>
<line x1="39.6" y1="227.0" x2="39.6" y2="294.5" stroke="#0570C4" stroke-width="1"/>
<line x1="39.6" y1="227.0" x2="41.6" y2="227.0" stroke="#0570C4" stroke-width="0.8"/>
<text x="36.8" y="231.5" text-anchor="end" class="t" fill="#1A7ECB" stroke="#1A7ECB">10</text>
<line x1="39.6" y1="249.3" x2="41.6" y2="249.3" stroke="#0570C4" stroke-width="0.8"/>
<text x="36.8" y="253.8" text-anchor="end" class="t" fill="#1A7ECB" stroke="#1A7ECB">5</text>
<line x1="39.6" y1="271.7" x2="41.6" y2="271.7" stroke="#0570C4" stroke-width="0.8"/>
<text x="36.8" y="276.2" text-anchor="end" class="t" fill="#1A7ECB" stroke="#1A7ECB">0</text>
<line x1="227.9" y1="227.0" x2="227.9" y2="294.5" stroke="#F78F62" stroke-width="1"/>
<line x1="225.9" y1="227.0" x2="227.9" y2="227.0" stroke="#F78F62" stroke-width="0.8"/>
<text x="230.5" y="231.5" text-anchor="start" class="t" fill="#F37A38" stroke="#F37A38">−100</text>
<line x1="225.9" y1="253.8" x2="227.9" y2="253.8" stroke="#F78F62" stroke-width="0.8"/>
<text x="230.5" y="258.3" text-anchor="start" class="t" fill="#F37A38" stroke="#F37A38">−120</text>
<line x1="225.9" y1="280.6" x2="227.9" y2="280.6" stroke="#F78F62" stroke-width="0.8"/>
<text x="230.5" y="285.1" text-anchor="start" class="t" fill="#F37A38" stroke="#F37A38">−140</text>
<text transform="translate(20.0,260.5) rotate(-90)" text-anchor="middle" dominant-baseline="central" class="l" fill="#1A7ECB" stroke="#1A7ECB">E</text>
<text transform="translate(259.2,260.5) rotate(-90)" text-anchor="middle" dominant-baseline="central" class="l" fill="#F37A38" stroke="#F37A38">Depth(m)</text>
<line x1="81.3" y1="310.0" x2="81.3" y2="376.6" stroke="#e2e2e2" stroke-width="0.8"/>
<line x1="133.8" y1="310.0" x2="133.8" y2="376.6" stroke="#e2e2e2" stroke-width="0.8"/>
<line x1="185.8" y1="310.0" x2="185.8" y2="376.6" stroke="#e2e2e2" stroke-width="0.8"/>
<line x1="39.6" y1="325.6" x2="227.9" y2="325.6" stroke="#e2e2e2" stroke-width="0.8"/>
<line x1="39.6" y1="349.9" x2="227.9" y2="349.9" stroke="#e2e2e2" stroke-width="0.8"/>
<line x1="39.6" y1="374.2" x2="227.9" y2="374.2" stroke="#e2e2e2" stroke-width="0.8"/>
<polyline points="42.1,355.5 43.0,351.4 43.8,350.6 44.6,348.6 45.4,341.5 46.3,342.9 47.1,349.2 47.9,351.4 48.8,344.3 49.6,342.2 50.4,345.7 51.6,349.9 52.9,350.6 54.5,351.4 55.9,352.1 57.0,353.4 58.2,350.6 59.5,349.9 61.2,349.2 62.8,347.8 63.6,344.3 64.5,334.5 65.1,316.0 65.8,334.5 66.5,355.5 67.1,372.0 67.4,372.0 68.1,359.8 69.1,355.5 70.3,354.9 71.9,354.2 73.1,352.7 74.4,351.4 76.0,349.2 77.4,346.4 78.5,348.6 79.7,354.2 80.7,358.3 81.3,361.0 82.3,354.2 83.5,348.6 84.6,344.3 86.0,339.3 86.8,341.5 87.6,348.6 89.0,354.2 90.1,352.7 91.3,347.1 92.6,343.6 93.9,347.1 95.1,351.4 96.2,357.0 96.9,358.4 97.9,354.2 99.2,347.1 100.5,344.3 101.7,347.1 102.8,352.7 104.2,349.9 105.5,347.1 106.7,345.7 107.8,348.6 109.1,350.6 110.8,348.6 112.4,349.2 114.1,349.2 115.8,348.6 117.4,344.3 118.6,342.2 119.9,351.4 121.0,353.4 122.4,347.1 123.7,340.1 124.8,349.9 126.3,358.3 127.4,352.7 128.6,347.1 129.9,342.2 131.2,345.0 132.4,345.7 133.6,345.7 134.9,347.1 135.7,351.4 136.5,362.6 137.2,368.6 137.9,359.8 138.5,351.4 139.5,348.6 140.7,349.9 141.8,349.9 143.2,355.5 144.5,357.0 145.6,351.4 146.8,348.6 148.1,347.1 149.4,350.6 150.6,348.6 151.8,347.1 153.1,350.6 154.4,349.2 155.6,352.7 156.7,347.8 158.0,347.1 159.4,349.9 160.5,348.6 161.7,350.6 163.0,348.6 164.3,351.4 165.5,349.9 166.7,347.8 168.0,347.1 169.3,351.4 170.5,349.2 171.6,347.8 172.9,349.2 174.3,347.1 175.4,348.6 176.6,347.1 177.9,346.4 179.2,353.4 180.4,347.1 181.5,345.7 182.9,349.2 184.2,351.4 185.3,355.5 186.2,358.3 187.5,351.4 188.6,349.9 189.8,348.6 191.1,352.7 192.5,352.1 193.6,349.9 194.8,347.1 196.1,345.7 197.4,349.9 198.6,348.6 199.7,349.9 201.1,349.2 202.4,350.6 203.5,352.1 204.7,347.1 205.7,354.2 206.6,355.9 207.7,342.9 208.5,341.6 209.5,348.6 210.7,351.5 211.8,347.2 213.2,347.9 214.8,349.3 216.5,350.0 218.1,350.7 219.8,351.5 221.4,350.7 222.8,347.9 223.9,350.7 224.8,350.0" fill="none" stroke="#000" stroke-width="2.50" stroke-linejoin="round" stroke-linecap="round" />
<polyline points="42.1,356.9 43.0,351.8 43.8,350.9 44.6,348.3 45.4,339.6 46.3,341.3 47.1,349.2 47.9,351.8 48.8,343.1 49.6,340.5 50.4,344.8 51.6,350.0 52.9,350.9 54.5,351.8 55.9,352.6 57.0,354.3 58.2,350.9 59.5,350.0 61.2,349.2 62.8,347.4 63.6,343.1 64.5,330.9 65.1,309.5 65.8,330.9 66.5,356.9 67.1,376.5 67.4,376.5 68.1,362.2 69.1,356.9 70.3,356.1 71.9,355.3 73.1,353.5 74.4,351.8 76.0,349.2 77.4,345.7 78.5,348.3 79.7,355.3 80.7,360.4 81.3,363.7 82.3,355.3 83.5,348.3 84.6,343.1 86.0,336.9 86.8,339.6 87.6,348.3 89.0,355.3 90.1,353.5 91.3,346.6 92.6,342.2 93.9,346.6 95.1,351.8 96.2,358.7 96.9,360.5 97.9,355.3 99.2,346.6 100.5,343.1 101.7,346.6 102.8,353.5 104.2,350.0 105.5,346.6 106.7,344.8 107.8,348.3 109.1,350.9 110.8,348.3 112.4,349.2 114.1,349.2 115.8,348.3 117.4,343.1 118.6,340.5 119.9,351.8 121.0,354.3 122.4,346.6 123.7,337.8 124.8,350.0 126.3,360.4 127.4,353.5 128.6,346.6 129.9,340.5 131.2,343.9 132.4,344.8 133.6,344.8 134.9,346.6 135.7,351.8 136.5,365.7 137.2,373.1 137.9,362.2 138.5,351.8 139.5,348.3 140.7,350.0 141.8,350.0 143.2,356.9 144.5,358.7 145.6,351.8 146.8,348.3 148.1,346.6 149.4,350.9 150.6,348.3 151.8,346.6 153.1,350.9 154.4,349.2 155.6,353.5 156.7,347.4 158.0,346.6 159.4,350.0 160.5,348.3 161.7,350.9 163.0,348.3 164.3,351.8 165.5,350.0 166.7,347.4 168.0,346.6 169.3,351.8 170.5,349.2 171.6,347.4 172.9,349.2 174.3,346.6 175.4,348.3 176.6,346.6 177.9,345.7 179.2,354.3 180.4,346.6 181.5,344.8 182.9,349.2 184.2,351.8 185.3,356.9 186.2,360.4 187.5,351.8 188.6,350.0 189.8,348.3 191.1,353.5 192.5,352.6 193.6,350.0 194.8,346.6 196.1,344.8 197.4,350.0 198.6,348.3 199.7,350.0 201.1,349.2 202.4,350.9 203.5,352.6 204.7,346.6 205.7,355.3 206.6,357.4 207.7,341.3 208.5,339.7 209.5,348.3 210.7,351.9 211.8,346.7 213.2,347.5 214.8,349.3 216.5,350.1 218.1,351.0 219.8,351.9 221.4,351.0 222.8,347.5 223.9,351.0 224.8,350.1" fill="none" stroke="#000" stroke-width="2.20" stroke-linecap="butt" stroke-dasharray="1.6 1.8" />
<line x1="39.1" y1="376.6" x2="228.4" y2="376.6" stroke="#555555" stroke-width="1"/>
<line x1="81.3" y1="376.6" x2="81.3" y2="374.6" stroke="#262626" stroke-width="0.8"/>
<text x="81.3" y="389.2" text-anchor="middle" class="t" fill="#262626" stroke="#262626">123.5</text>
<line x1="133.8" y1="376.6" x2="133.8" y2="374.6" stroke="#262626" stroke-width="0.8"/>
<text x="133.8" y="389.2" text-anchor="middle" class="t" fill="#262626" stroke="#262626">124</text>
<line x1="185.8" y1="376.6" x2="185.8" y2="374.6" stroke="#262626" stroke-width="0.8"/>
<text x="185.8" y="389.2" text-anchor="middle" class="t" fill="#262626" stroke="#262626">124.5</text>
<line x1="39.6" y1="310.0" x2="39.6" y2="377.1" stroke="#555555" stroke-width="1"/>
<line x1="39.6" y1="325.6" x2="41.6" y2="325.6" stroke="#555555" stroke-width="0.8"/>
<text x="36.8" y="330.1" text-anchor="end" class="t" fill="#262626" stroke="#262626">0.01</text>
<line x1="39.6" y1="349.9" x2="41.6" y2="349.9" stroke="#555555" stroke-width="0.8"/>
<text x="36.8" y="354.4" text-anchor="end" class="t" fill="#262626" stroke="#262626">0</text>
<line x1="39.6" y1="374.2" x2="41.6" y2="374.2" stroke="#555555" stroke-width="0.8"/>
<text x="36.8" y="378.7" text-anchor="end" class="t" fill="#262626" stroke="#262626">−0.01</text>
<text transform="translate(7.5,343.3) rotate(-90)" text-anchor="middle" dominant-baseline="central" class="l" fill="#262626" stroke="#262626">E</text>
<text x="133.8" y="402.9" text-anchor="middle" class="l" fill="#262626" stroke="#262626">Lon(Degree)</text>
<text x="134.0" y="427.2" text-anchor="middle" class="c" fill="#222" stroke="#222">(<tspan font-weight="bold">c</tspan>) Γ<tspan font-style="italic">xz</tspan></text>
<line x1="362.8" y1="227.0" x2="362.8" y2="294.0" stroke="#e2e2e2" stroke-width="0.8"/>
<line x1="415.3" y1="227.0" x2="415.3" y2="294.0" stroke="#e2e2e2" stroke-width="0.8"/>
<line x1="467.3" y1="227.0" x2="467.3" y2="294.0" stroke="#e2e2e2" stroke-width="0.8"/>
<line x1="321.1" y1="227.0" x2="509.4" y2="227.0" stroke="#d9e8f4" stroke-width="0.8"/>
<line x1="321.1" y1="260.5" x2="509.4" y2="260.5" stroke="#d9e8f4" stroke-width="0.8"/>
<line x1="321.1" y1="294.0" x2="509.4" y2="294.0" stroke="#d9e8f4" stroke-width="0.8"/>
<clipPath id="c321_227"><rect x="321.1" y="225.0" width="188.3" height="70.0"/></clipPath>
<g clip-path="url(#c321_227)">
<polyline points="323.8,270.5 325.0,270.5 325.9,274.6 327.1,279.6 328.3,286.2 329.1,288.7 329.9,282.9 330.9,274.6 332.1,271.3 333.2,269.7 334.5,273.0 335.9,272.1 337.0,273.0 338.2,272.1 339.5,274.6 340.8,273.8 342.0,276.3 343.1,274.6 344.1,268.0 345.3,258.1 346.5,241.5 347.4,232.4 348.6,241.5 349.4,258.1 350.3,271.3 351.1,274.6 352.4,276.3 353.6,276.3 354.7,277.9 356.0,279.6 357.4,281.2 358.5,282.1 359.7,280.4 360.7,281.2 361.8,286.2 363.0,290.3 364.0,292.0 365.1,287.9 366.3,279.6 367.6,269.7 368.9,264.7 370.1,263.0 371.3,264.7 372.3,269.7 373.4,273.8 374.6,273.0 375.9,272.1 377.2,274.6 378.4,277.9 379.5,280.4 380.9,282.1 382.2,279.6 383.3,276.3 384.5,275.5 385.8,274.6 387.5,273.8 389.1,273.0 390.5,274.6 391.6,273.0 392.8,269.7 394.1,266.4 395.4,265.5 396.6,267.2 397.7,268.8 399.1,266.4 400.2,264.7 401.3,268.0 402.5,271.3 403.6,269.7 405.0,273.0 406.3,268.0 407.4,269.7 408.6,274.6 409.6,278.8 410.8,277.9 411.9,276.3 412.9,269.7 414.1,260.6 415.2,258.1 416.5,256.4 417.9,254.0 419.0,255.6 420.2,260.6 421.5,260.6 422.8,261.4 424.0,265.5 425.1,271.3 426.5,277.9 427.8,286.2 428.9,292.0 430.1,286.2 431.4,277.9 432.8,273.8 433.9,274.6 435.1,269.7 436.4,264.7 437.7,259.7 439.0,262.2 440.5,266.4 441.7,271.3 443.0,276.3 444.3,278.8 445.5,277.9 446.6,277.9 448.0,273.0 449.6,267.2 451.3,263.0 452.6,266.4 453.8,270.5 454.9,273.8 456.2,272.1 457.6,269.7 458.7,267.2 459.9,264.7 461.2,262.2 462.5,261.4 464.2,259.7 465.3,258.1 466.6,256.5 468.3,259.8 470.0,263.1 471.3,264.0 472.9,260.6 474.6,253.2 475.7,249.9 476.9,246.5 477.9,245.7 479.1,249.9 480.2,255.7 481.5,258.2 483.2,259.0 484.9,258.2 486.2,254.8 487.3,256.5 488.5,261.5 489.5,264.8 490.7,258.2 491.8,251.5 493.2,246.5 494.5,244.9 495.6,249.9 496.8,254.8 498.1,259.8 499.4,264.8 500.6,268.1 501.8,268.9 503.1,268.1 503.9,264.0 505.1,260.6 506.4,259.8" fill="none" stroke="#0570C4" stroke-width="2.60" stroke-linejoin="round" stroke-linecap="round" />
<polyline points="323.8,254.8 325.0,253.1 326.3,250.6 327.6,253.1 328.8,256.4 329.9,259.7 331.2,263.0 332.6,264.7 333.7,263.9 335.4,262.2 337.0,260.6 338.7,258.1 340.3,256.4 342.0,256.4 343.6,255.6 344.8,257.3 345.8,263.0 346.5,274.6 347.1,286.2 347.8,292.0 348.8,279.6 349.8,268.0 351.1,263.0 352.7,258.1 354.4,253.1 356.0,249.8 357.7,248.2 359.4,249.0 360.7,251.5 361.8,248.2 363.0,241.5 364.3,239.9 366.0,241.5 367.3,244.9 368.5,254.8 369.3,258.1 370.6,255.6 371.8,250.6 373.4,248.2 374.6,251.5 375.6,255.6 376.7,254.8 377.9,250.6 379.2,246.5 380.9,246.5 382.2,249.8 383.3,250.6 384.5,248.2 385.8,248.2 387.5,250.6 389.1,252.3 390.8,254.8 392.4,253.1 394.1,254.0 395.8,254.0 397.4,254.0 399.1,254.8 400.4,259.7 401.5,257.0 402.5,255.6 403.6,259.7 405.0,264.7 406.3,265.5 407.4,261.4 408.6,256.4 409.9,257.3 411.6,261.4 413.2,266.4 414.9,269.7 416.5,273.8 417.9,277.1 419.0,268.0 420.2,258.1 421.5,256.4 423.2,256.4 424.8,255.6 426.1,251.5 427.3,246.5 428.5,243.2 429.8,244.9 431.4,245.7 433.1,246.5 434.7,248.2 436.4,249.8 438.0,248.2 439.7,249.0 441.4,249.8 443.0,249.8 444.7,249.0 446.3,248.2 448.0,250.6 449.6,250.6 451.3,248.2 452.9,247.3 454.6,248.2 456.2,249.8 457.9,252.3 459.6,252.5 461.7,253.2 463.3,254.8 465.0,255.7 466.6,256.5 468.0,251.5 469.1,246.5 470.8,245.7 472.4,244.9 474.1,242.4 475.7,239.9 477.4,243.2 479.1,244.9 480.7,244.9 482.4,244.9 484.0,244.1 485.2,241.6 486.5,240.7 487.8,238.3 489.0,235.0 490.2,237.4 491.5,240.7 493.2,241.6 494.8,243.2 496.5,244.1 498.1,244.1 499.8,243.2 501.4,241.6 503.1,239.9 504.4,239.1 505.6,239.9 506.4,239.1" fill="none" stroke="#FC4F0C" stroke-width="2.60" stroke-linejoin="round" stroke-linecap="round" />
</g>
<line x1="320.6" y1="294.0" x2="509.9" y2="294.0" stroke="#555555" stroke-width="1"/>
<line x1="362.8" y1="294.0" x2="362.8" y2="292.0" stroke="#262626" stroke-width="0.8"/>
<text x="362.8" y="305.6" text-anchor="middle" class="t" fill="#262626" stroke="#262626">123.5</text>
<line x1="415.3" y1="294.0" x2="415.3" y2="292.0" stroke="#262626" stroke-width="0.8"/>
<text x="415.3" y="305.6" text-anchor="middle" class="t" fill="#262626" stroke="#262626">124</text>
<line x1="467.3" y1="294.0" x2="467.3" y2="292.0" stroke="#262626" stroke-width="0.8"/>
<text x="467.3" y="305.6" text-anchor="middle" class="t" fill="#262626" stroke="#262626">124.5</text>
<line x1="321.1" y1="227.0" x2="321.1" y2="294.5" stroke="#0570C4" stroke-width="1"/>
<line x1="321.1" y1="227.0" x2="323.1" y2="227.0" stroke="#0570C4" stroke-width="0.8"/>
<text x="318.3" y="231.5" text-anchor="end" class="t" fill="#1A7ECB" stroke="#1A7ECB">10</text>
<line x1="321.1" y1="260.5" x2="323.1" y2="260.5" stroke="#0570C4" stroke-width="0.8"/>
<text x="318.3" y="265.0" text-anchor="end" class="t" fill="#1A7ECB" stroke="#1A7ECB">5</text>
<line x1="321.1" y1="294.0" x2="323.1" y2="294.0" stroke="#0570C4" stroke-width="0.8"/>
<text x="318.3" y="298.5" text-anchor="end" class="t" fill="#1A7ECB" stroke="#1A7ECB">0</text>
<line x1="509.4" y1="227.0" x2="509.4" y2="294.5" stroke="#F78F62" stroke-width="1"/>
<line x1="507.4" y1="227.0" x2="509.4" y2="227.0" stroke="#F78F62" stroke-width="0.8"/>
<text x="512.0" y="231.5" text-anchor="start" class="t" fill="#F37A38" stroke="#F37A38">−100</text>
<line x1="507.4" y1="253.8" x2="509.4" y2="253.8" stroke="#F78F62" stroke-width="0.8"/>
<text x="512.0" y="258.3" text-anchor="start" class="t" fill="#F37A38" stroke="#F37A38">−120</text>
<line x1="507.4" y1="280.6" x2="509.4" y2="280.6" stroke="#F78F62" stroke-width="0.8"/>
<text x="512.0" y="285.1" text-anchor="start" class="t" fill="#F37A38" stroke="#F37A38">−140</text>
<text transform="translate(301.3,260.5) rotate(-90)" text-anchor="middle" dominant-baseline="central" class="l" fill="#1A7ECB" stroke="#1A7ECB">E</text>
<text transform="translate(540.7,260.5) rotate(-90)" text-anchor="middle" dominant-baseline="central" class="l" fill="#F37A38" stroke="#F37A38">Depth(m)</text>
<line x1="362.8" y1="310.0" x2="362.8" y2="376.6" stroke="#e2e2e2" stroke-width="0.8"/>
<line x1="415.3" y1="310.0" x2="415.3" y2="376.6" stroke="#e2e2e2" stroke-width="0.8"/>
<line x1="467.3" y1="310.0" x2="467.3" y2="376.6" stroke="#e2e2e2" stroke-width="0.8"/>
<line x1="321.1" y1="322.0" x2="509.4" y2="322.0" stroke="#e2e2e2" stroke-width="0.8"/>
<line x1="321.1" y1="349.3" x2="509.4" y2="349.3" stroke="#e2e2e2" stroke-width="0.8"/>
<line x1="321.1" y1="376.6" x2="509.4" y2="376.6" stroke="#e2e2e2" stroke-width="0.8"/>
<polyline points="323.8,355.0 325.0,355.8 326.3,358.3 327.6,363.2 328.8,368.2 329.9,361.6 330.9,358.3 332.1,355.8 333.2,355.0 334.5,356.6 335.9,355.8 337.0,355.8 338.2,357.5 339.5,356.6 340.8,357.5 342.0,359.9 343.1,356.6 344.1,350.0 345.3,340.1 346.5,333.5 347.4,331.8 348.1,336.8 349.1,346.7 350.3,356.6 351.9,357.5 353.6,358.3 355.2,359.9 356.9,361.6 358.5,363.2 360.2,364.1 361.3,366.6 362.7,369.0 364.0,370.7 365.1,368.2 366.3,361.6 367.6,353.3 368.9,349.2 370.1,350.0 370.9,353.3 372.3,355.0 373.4,355.8 375.1,356.6 376.2,358.3 377.6,358.3 378.9,361.6 380.0,364.1 381.2,364.1 382.5,361.6 383.8,359.9 385.5,358.3 387.1,357.5 388.8,357.5 390.5,357.5 392.1,356.6 393.8,352.5 394.9,351.7 396.1,353.3 397.4,355.0 398.7,352.5 400.0,350.8 401.3,351.7 402.5,353.3 403.6,354.1 405.0,351.7 406.3,355.0 407.4,356.6 408.6,359.9 409.9,360.8 411.2,359.9 412.4,353.3 413.6,348.4 414.9,344.2 416.5,341.7 417.9,343.4 419.0,345.9 420.7,348.4 422.3,349.2 424.0,350.8 425.1,355.0 426.5,359.9 427.8,366.6 428.9,371.5 430.1,366.6 431.4,359.9 432.8,355.0 433.9,351.7 435.1,347.5 436.4,345.9 437.7,346.7 438.9,349.2 440.0,351.7 441.4,355.0 442.7,358.3 443.8,360.8 445.5,360.8 446.6,359.1 448.0,355.0 449.3,351.7 450.5,349.2 451.6,350.0 452.9,353.3 454.3,356.6 455.4,357.5 456.6,355.0 457.9,351.7 459.2,349.2 460.9,347.5 462.5,347.5 464.2,345.9 465.8,342.6 467.0,341.7 468.2,345.0 469.5,348.4 470.8,350.1 472.4,346.8 474.1,341.8 475.7,337.7 476.9,335.2 478.2,339.3 479.6,343.5 481.2,346.0 482.9,345.1 484.5,346.0 485.7,342.6 486.9,345.1 488.2,349.3 489.5,350.9 490.7,346.8 491.8,341.8 493.2,337.7 494.0,335.2 495.1,339.3 496.5,343.5 498.1,347.6 499.8,350.9 501.4,352.6 503.1,352.6 504.4,349.3 505.6,346.8" fill="none" stroke="#000" stroke-width="2.70" stroke-linejoin="round" stroke-linecap="round" />
<polyline points="323.8,345.0 325.0,346.7 326.3,350.0 327.6,354.1 328.8,355.8 329.9,352.5 331.2,350.0 332.6,346.7 333.7,345.0 334.9,347.5 336.2,347.5 337.5,346.7 338.7,349.2 340.3,350.0 342.0,349.2 343.1,345.0 344.5,338.4 345.8,326.9 347.0,316.9 347.8,311.1 348.6,320.2 349.4,331.8 350.6,341.7 351.9,345.9 353.6,346.7 355.2,349.2 356.9,350.8 358.5,353.3 360.2,354.1 361.3,355.8 362.7,359.9 364.0,363.2 365.1,360.8 366.3,353.3 367.6,345.0 368.9,339.3 370.1,337.6 371.3,339.3 372.6,344.2 374.2,346.7 375.9,347.5 377.2,349.2 378.4,350.8 379.5,353.3 380.9,354.1 382.2,353.3 383.8,350.8 385.5,350.0 387.1,349.2 388.8,349.2 390.5,348.4 392.1,345.9 393.8,342.6 395.4,340.9 397.1,342.6 398.7,344.2 400.0,340.9 401.3,339.3 402.5,340.1 403.6,343.4 405.0,345.0 406.3,346.7 407.4,348.4 408.6,351.7 409.9,351.7 411.2,348.4 412.4,340.1 413.6,335.1 414.9,331.8 416.2,329.3 417.4,331.8 418.5,335.1 419.9,336.8 421.5,337.6 423.2,338.4 424.5,341.7 425.6,346.7 426.8,353.3 428.1,358.3 429.4,361.6 430.6,356.6 431.8,350.0 433.1,344.2 434.4,339.3 435.6,336.0 436.7,333.5 438.0,336.0 439.4,339.3 440.5,343.4 441.7,347.5 443.0,350.8 444.7,353.3 446.0,351.7 447.1,346.7 448.3,341.7 449.6,338.4 451.0,340.1 452.1,343.4 453.3,346.7 454.6,348.4 455.9,346.7 457.1,343.4 458.2,340.1 459.6,338.4 460.9,336.8 462.5,336.0 464.2,333.5 465.8,331.0 466.6,328.5 468.0,331.9 469.6,335.2 471.3,337.7 472.9,334.3 474.6,327.7 476.2,323.6 477.6,319.0 478.9,322.7 480.0,327.7 481.2,331.9 482.9,332.7 484.5,331.9 486.2,329.4 487.3,331.9 488.5,335.2 489.8,337.7 491.2,331.9 492.3,325.2 493.5,320.3 494.8,325.2 496.1,331.9 497.3,336.8 499.0,340.1 500.6,342.6 502.3,341.8 503.4,338.5 504.8,335.2 506.1,333.5" fill="none" stroke="#000" stroke-width="2.20" stroke-linecap="butt" stroke-dasharray="1.6 1.8" />
<line x1="320.6" y1="376.6" x2="509.9" y2="376.6" stroke="#555555" stroke-width="1"/>
<line x1="362.8" y1="376.6" x2="362.8" y2="374.6" stroke="#262626" stroke-width="0.8"/>
<text x="362.8" y="389.2" text-anchor="middle" class="t" fill="#262626" stroke="#262626">123.5</text>
<line x1="415.3" y1="376.6" x2="415.3" y2="374.6" stroke="#262626" stroke-width="0.8"/>
<text x="415.3" y="389.2" text-anchor="middle" class="t" fill="#262626" stroke="#262626">124</text>
<line x1="467.3" y1="376.6" x2="467.3" y2="374.6" stroke="#262626" stroke-width="0.8"/>
<text x="467.3" y="389.2" text-anchor="middle" class="t" fill="#262626" stroke="#262626">124.5</text>
<line x1="321.1" y1="310.0" x2="321.1" y2="377.1" stroke="#555555" stroke-width="1"/>
<line x1="321.1" y1="322.0" x2="323.1" y2="322.0" stroke="#555555" stroke-width="0.8"/>
<text x="318.3" y="326.5" text-anchor="end" class="t" fill="#262626" stroke="#262626">0.02</text>
<line x1="321.1" y1="349.3" x2="323.1" y2="349.3" stroke="#555555" stroke-width="0.8"/>
<text x="318.3" y="353.8" text-anchor="end" class="t" fill="#262626" stroke="#262626">0.01</text>
<line x1="321.1" y1="376.6" x2="323.1" y2="376.6" stroke="#555555" stroke-width="0.8"/>
<text x="318.3" y="381.1" text-anchor="end" class="t" fill="#262626" stroke="#262626">0</text>
<text transform="translate(292.0,343.3) rotate(-90)" text-anchor="middle" dominant-baseline="central" class="l" fill="#262626" stroke="#262626">E</text>
<text x="415.3" y="402.9" text-anchor="middle" class="l" fill="#262626" stroke="#262626">Lon(Degree)</text>
<text x="415.5" y="427.2" text-anchor="middle" class="c" fill="#222" stroke="#222">(<tspan font-weight="bold">d</tspan>) Γ<tspan font-style="italic">yy</tspan></text>
</svg>
</body></html>
